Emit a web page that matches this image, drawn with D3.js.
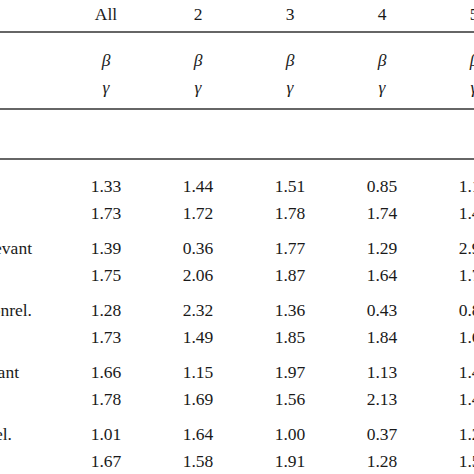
<!DOCTYPE html><html><head><meta charset="utf-8">
<script src="https://cdn.jsdelivr.net/npm/d3@7"></script>
<style>body{margin:0;background:#fff}svg{display:block}</style>
</head><body><script>
const columns = ["All","2","3","4","5"];
const rowLabels = ["","Relevant","Nonrel.","Relevant","Nonrel."];
const betaVals = [[1.33,1.44,1.51,0.85,1.12],[1.39,0.36,1.77,1.29,2.94],[1.28,2.32,1.36,0.43,0.88],[1.66,1.15,1.97,1.13,1.42],[1.01,1.64,1.00,0.37,1.20]];
const gammaVals = [[1.73,1.72,1.78,1.74,1.45],[1.75,2.06,1.87,1.64,1.70],[1.73,1.49,1.85,1.84,1.61],[1.78,1.69,1.56,2.13,1.47],[1.67,1.58,1.91,1.28,1.53]];
const labelEnds = [0,32,32,19,12];

const W=474,H=474;
const FF="'Liberation Serif','Times New Roman',Tinos,'DejaVu Serif',serif";
const svg=d3.select("body").append("svg").attr("width",W).attr("height",H)
  .attr("font-family",FF).attr("fill","#1a1a1a");
const x=d3.scaleLinear().domain([0,4]).range([106,474]);
const y=d3.scaleLinear().domain([0,4]).range([186,434]);
const fs=17.5;
const t=sel=>sel.attr("font-family",FF).attr("font-size",fs).attr("fill","#1a1a1a");
svg.append("g").selectAll("text").data(columns).join("text").call(t).attr("x",(d,i)=>x(i)).attr("y",20).attr("text-anchor","middle").text(d=>d);
svg.append("g").selectAll("text").data(columns).join("text").call(t).attr("x",(d,i)=>x(i)).attr("y",66).attr("text-anchor","middle").attr("font-style","italic").text("β");
svg.append("g").selectAll("text").data(columns).join("text").call(t).attr("x",(d,i)=>x(i)).attr("y",93).attr("text-anchor","middle").attr("font-style","italic").text("γ");
[32,109,159].forEach(v=>svg.append("line").attr("x1",0).attr("x2",W).attr("y1",v).attr("y2",v).attr("stroke","#333").attr("stroke-width",1.3));
betaVals.forEach((row,r)=>{
  svg.append("g").selectAll("text").data(row).join("text").call(t).attr("x",(d,i)=>x(i)).attr("y",y(r)+6).attr("text-anchor","middle").text(d=>d.toFixed(2));
  svg.append("g").selectAll("text").data(gammaVals[r]).join("text").call(t).attr("x",(d,i)=>x(i)).attr("y",y(r)+33).attr("text-anchor","middle").text(d=>d.toFixed(2));
  svg.append("text").call(t).attr("x",labelEnds[r]).attr("y",y(r)+6).attr("text-anchor","end").text(rowLabels[r]);
});
</script></body></html>
